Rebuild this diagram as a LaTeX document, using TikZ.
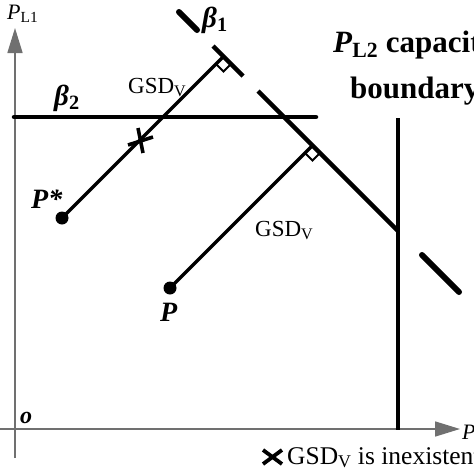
\documentclass[tikz,border=0pt]{standalone}
\usepackage{fontspec}
\setmainfont{Liberation Serif}
\usetikzlibrary{arrows.meta,calc}
\definecolor{axisgray}{RGB}{112,112,112}
\tikzset{
  axisline/.style={draw=axisgray, line width=1.6pt, -{Triangle[length=25pt,width=15pt]}},
  bline/.style={line width=4.5pt},
  bendseg/.style={line width=6pt, line cap=round},
  gsdline/.style={line width=3.4pt},
  ramark/.style={line width=2pt},
  xmark/.style={line width=3.6pt},
  dot/.style={circle, fill=black, inner sep=0pt, minimum size=13pt},
  lbl/.style={inner sep=0pt, anchor=base west},
}
\begin{document}
\begin{tikzpicture}[x=1pt, y=-1pt]
\useasboundingbox (0,0) rectangle (474,474);
% axes
\coordinate (yb) at (15,458);
\coordinate (yt) at (15,28);
\coordinate (xl) at (0,429);
\coordinate (xr) at (460,429);
\draw[axisline] (yb) -- (yt);
\draw[axisline] (xl) -- (xr);
\node[lbl, font=\fontsize{22}{26}\selectfont] (ylab) at (7,19) {\textit{P}\textsubscript{L1}};
\node[lbl, font=\fontsize{22}{26}\selectfont] (xlab) at (462,439) {\textit{P}\textsubscript{L2}};
\node[lbl, font=\fontsize{24}{28}\selectfont\bfseries\itshape] (o) at (20,423) {o};
% beta2
\coordinate (b2l) at (14,117);
\coordinate (b2r) at (316,117);
\draw[bline, line cap=round] (b2l) -- (b2r);
\node[lbl, font=\fontsize{29}{32}\selectfont\bfseries\itshape] (b2lab) at (54,105) {β\textsubscript{\upshape 2}};
% beta1 (line x - y = 167)
\coordinate (a1) at (179,12);
\coordinate (a2) at (197,30);
\coordinate (c1) at (213,46);
\coordinate (c2) at (243,76);
\coordinate (d1) at (258,91);
\coordinate (d2) at (398,231);
\coordinate (e1) at (422,255);
\coordinate (e2) at (459,292);
\draw[bendseg] (a1) -- (a2);
\draw[bline] (c1) -- (c2);
\draw[bline] (d1) -- (d2);
\draw[bendseg] (e1) -- (e2);
\node[lbl, font=\fontsize{29}{32}\selectfont\bfseries\itshape] (b1lab) at (202,27) {β\textsubscript{\upshape 1}};
% capacity boundary
\coordinate (vt) at (398,118);
\coordinate (vb) at (398,430);
\draw[line width=4.6pt] (vt) -- (vb);
\node[lbl, font=\fontsize{31}{34}\selectfont\bfseries] (caplab) at (333,52) {\textit{P}\textsubscript{L2} capacity};
\node[lbl, font=\fontsize{31}{34}\selectfont\bfseries] (boundlab) at (350,98) {boundary};
% P* and GSD
\node[dot] (pstar) at (62,218) {};
\coordinate (f1) at (223.5,56.5);
\draw[gsdline] (pstar.center) -- (f1);
\draw[ramark] ($(f1)+(7.5,7.5)$) -- ++(-7.5,7.5) -- ++(-7.5,-7.5);
\node[lbl, font=\fontsize{28}{32}\selectfont\bfseries\itshape] (pslab) at (31,208) {P*};
\node[lbl, font=\fontsize{23}{26}\selectfont] (gsd1) at (128,93) {GSD\textsubscript{V}};
% cross mark
\coordinate (xa1) at (128,145);
\coordinate (xa2) at (153,137);
\coordinate (xb1) at (138,128);
\coordinate (xb2) at (143,153);
\draw[xmark] (xa1) -- (xa2);
\draw[xmark] (xb1) -- (xb2);
% P and GSD
\node[dot] (p) at (170,288) {};
\coordinate (f2) at (312.5,145.5);
\draw[gsdline] (p.center) -- (f2);
\draw[ramark] ($(f2)+(7.5,7.5)$) -- ++(-7.5,7.5) -- ++(-7.5,-7.5);
\node[lbl, font=\fontsize{28}{32}\selectfont\bfseries\itshape] (plab) at (160,321) {P};
\node[lbl, font=\fontsize{23}{26}\selectfont] (gsd2) at (255,236) {GSD\textsubscript{V}};
% legend
\coordinate (la1) at (263,450);
\coordinate (la2) at (282,464);
\coordinate (lb1) at (263,464);
\coordinate (lb2) at (282,450);
\draw[line width=3.8pt] (la1) -- (la2);
\draw[line width=3.8pt] (lb1) -- (lb2);
\node[lbl, font=\fontsize{25.5}{28}\selectfont] (leg) at (287,464) {GSD\textsubscript{V} is inexistent};
\end{tikzpicture}
\end{document}
